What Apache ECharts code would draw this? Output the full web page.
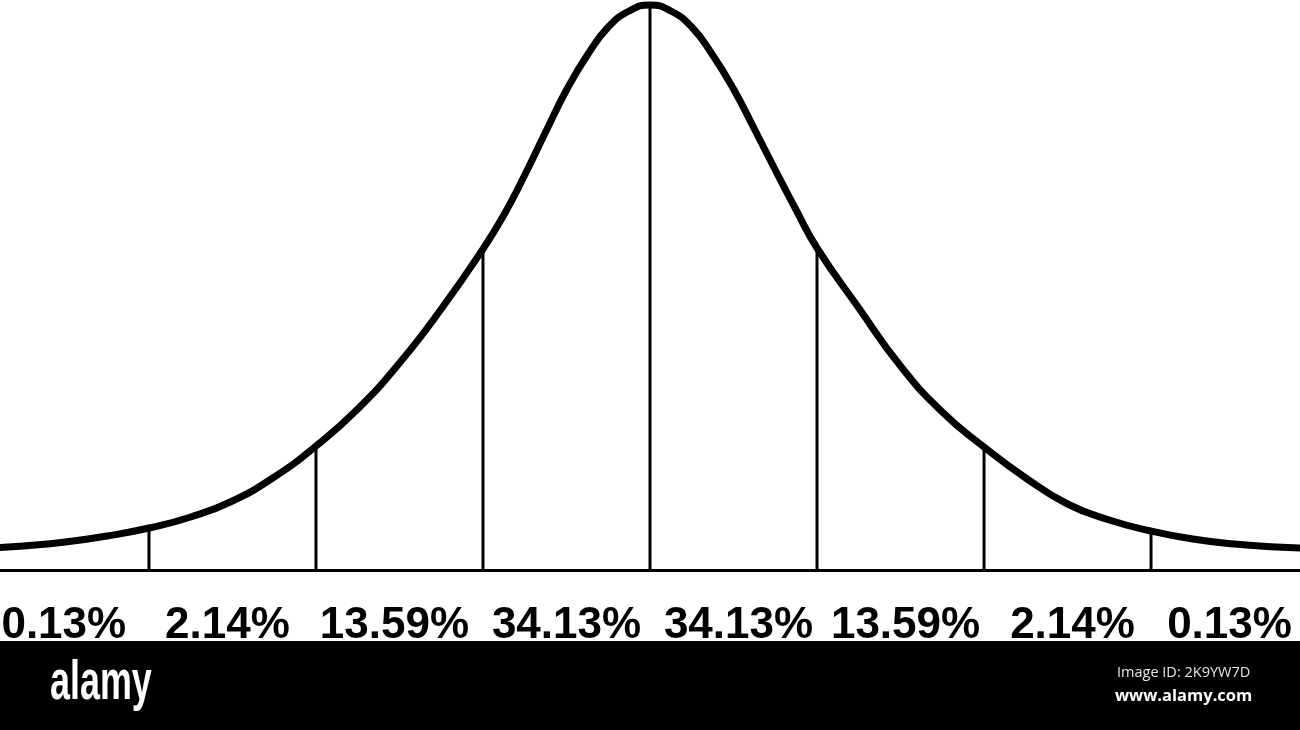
<!DOCTYPE html>
<html><head><meta charset="utf-8">
<script src="https://cdn.jsdelivr.net/npm/echarts@6/dist/echarts.min.js"></script>
<style>html,body{margin:0;padding:0;background:#fff;overflow:hidden}#c{width:1300px;height:730px}</style>
</head><body><div id="c"></div>
<script>
// Bell curve: x in standard deviations, y = height above the baseline
const curveX = [-3.89,-3.75,-3.5,-3.25,-3.0,-2.75,-2.5,-2.25,-2.0,-1.75,-1.5,-1.25,-1.0,-0.875,-0.75,-0.625,-0.5,-0.375,-0.25,-0.125,0,
                0.125,0.25,0.375,0.5,0.625,0.75,0.875,1.0,1.25,1.5,1.75,2.0,2.25,2.5,2.75,3.0,3.25,3.5,3.75,3.89];
const curveY = [22.5,24,28,34,42,53,69,93,124,161,207,261,321,355,395,438,480,515,543,559,565,
                559,543,515,481,441,400,360,322,262,204,158,123,92,66,50,39,31,26,23,22];
// Vertical sigma lines and where they meet the curve
const sigmaX = [-3,-2,-1,0,1,2,3];
const sigmaTop = [42,124,321,565,322,123,39];
// Band percentages
const bandCenters = [-3.51,-2.53,-1.53,-0.50,0.53,1.53,2.53,3.47];
const bandLabels = ['0.13%','2.14%','13.59%','34.13%','34.13%','13.59%','2.14%','0.13%'];
const labelLevel = -56;

const chart = echarts.init(document.getElementById('c'), null, {renderer:'canvas'});
const curveData = curveX.map((x,i)=>[x,curveY[i]]);
const lineData = sigmaX.map((x,i)=>[x,sigmaTop[i]]);
const labelData = bandCenters.map((x,i)=>({value:[x,labelLevel], name:bandLabels[i]}));

chart.setOption({
  animation:false,
  backgroundColor:'#ffffff',
  grid:{left:0,right:0,top:0,bottom:0,containLabel:false},
  xAxis:{type:'value',min:-3.892,max:3.892,
    axisLine:{show:true,onZero:true,lineStyle:{color:'#000',width:3}},
    axisTick:{show:false},axisLabel:{show:false},splitLine:{show:false}},
  yAxis:{type:'value',min:-160,max:570,show:false,splitLine:{show:false}},
  series:[
    {type:'custom',data:lineData,z:3,
      renderItem:function(params,api){
        const p0=api.coord([api.value(0),0]);
        const p1=api.coord([api.value(0),api.value(1)]);
        return {type:'line',shape:{x1:p0[0],y1:p0[1],x2:p1[0],y2:p1[1]},
          style:{stroke:'#000',lineWidth:3}};
      }},
    {type:'line',data:curveData,smooth:0.5,symbol:'none',z:4,clip:false,
      lineStyle:{color:'#000',width:7,cap:'round',join:'round'}},
    {type:'scatter',data:labelData,symbolSize:0,z:5,clip:false,
      itemStyle:{opacity:1,color:'#000'},
      label:{show:true,position:'inside',formatter:p=>p.name,opacity:1,
        fontFamily:'"Liberation Sans", Arial, sans-serif',fontWeight:'bold',fontSize:44,color:'#000'}}
  ],
  graphic:[
    {type:'rect',z:100,left:0,top:641,shape:{width:1300,height:89},style:{fill:'#000'}},
    {type:'text',z:101,x:50,y:711,scaleX:0.69,scaleY:1.05,
      style:{text:'alamy',fill:'#fff',font:'bold 52px "Liberation Sans", Arial, sans-serif',verticalAlign:'bottom'}},
    {type:'text',z:101,x:1117,y:673,
      style:{text:'Image ID: 2K9YW7D',fill:'#e6e6e6',font:'14.5px "Open Sans", sans-serif',verticalAlign:'middle'}},
    {type:'text',z:101,x:1115,y:696,
      style:{text:'www.alamy.com',fill:'#fff',font:'bold 16.5px "Open Sans", sans-serif',verticalAlign:'middle'}}
  ]
});
</script></body></html>
